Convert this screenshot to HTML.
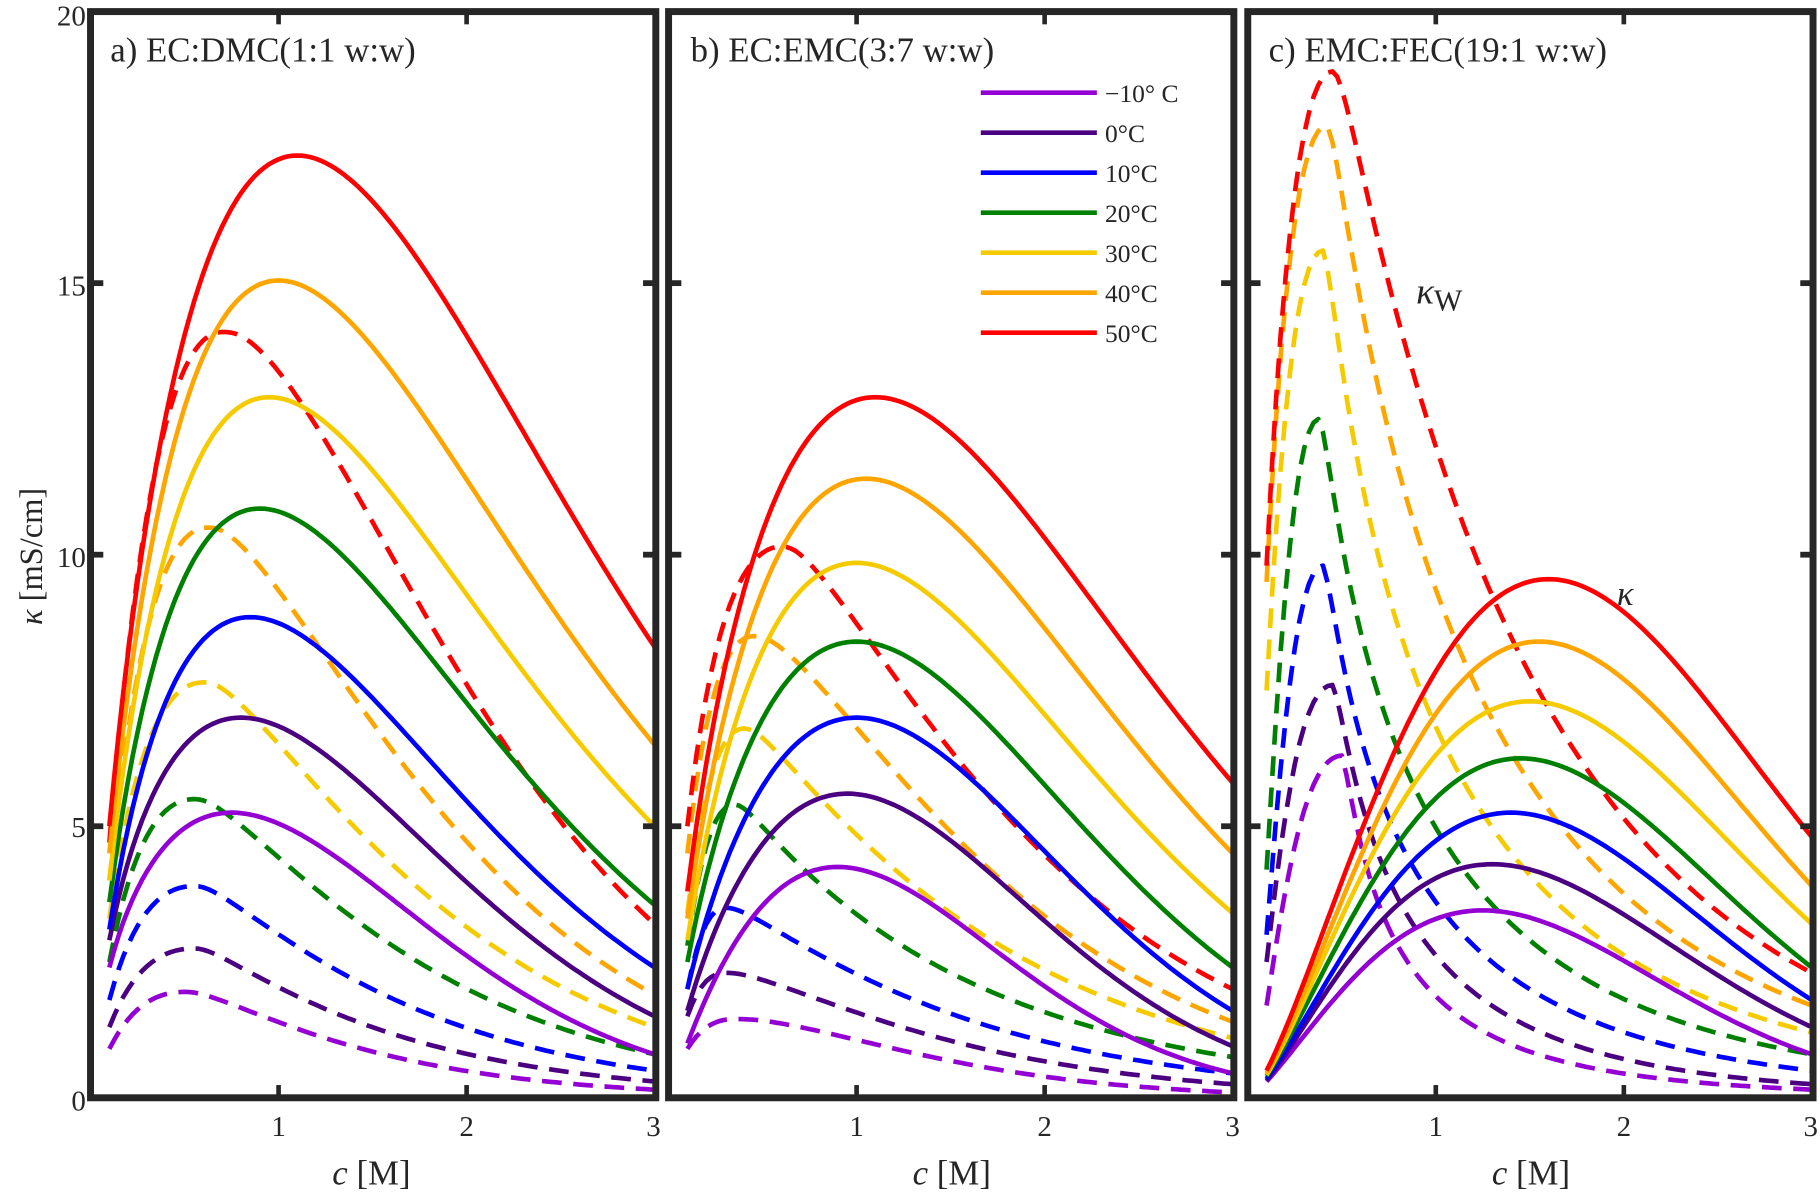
<!DOCTYPE html>
<html><head><meta charset="utf-8"><style>
html,body{margin:0;padding:0;background:#fff;}
svg{display:block;}
text{font-family:"Liberation Serif",serif;fill:#262626;}
</style></head><body>
<svg id="s" width="1820" height="1194" viewBox="0 0 1568 1030" preserveAspectRatio="none" xmlns="http://www.w3.org/2000/svg">
<defs>
<clipPath id="ca"><rect x="78" y="10" width="487" height="937"/></clipPath>
<clipPath id="cb"><rect x="576" y="10" width="488" height="937"/></clipPath>
<clipPath id="cc"><rect x="1075" y="10" width="488" height="937"/></clipPath>
</defs>
<g id="curves"></g>
<g id="frames"></g>
<text x="95" y="53" font-size="30">a) EC:DMC(1:1 w:w)</text>
<text x="595" y="53" font-size="30">b) EC:EMC(3:7 w:w)</text>
<text x="1093" y="53" font-size="30">c) EMC:FEC(19:1 w:w)</text>
<g font-size="25" text-anchor="end">
<text x="74" y="22">20</text><text x="74" y="255">15</text><text x="74" y="489">10</text><text x="74" y="722">5</text><text x="74" y="958">0</text>
</g>
<g font-size="25" text-anchor="middle">
<text x="240" y="980">1</text><text x="402" y="980">2</text><text x="563" y="980">3</text>
<text x="738" y="980">1</text><text x="900" y="980">2</text><text x="1062" y="980">3</text>
<text x="1237" y="980">1</text><text x="1399" y="980">2</text><text x="1560" y="980">3</text>
</g>
<g font-size="30" text-anchor="middle">
<text x="320" y="1022"><tspan font-style="italic">c</tspan> [M]</text>
<text x="820" y="1022"><tspan font-style="italic">c</tspan> [M]</text>
<text x="1319" y="1022"><tspan font-style="italic">c</tspan> [M]</text>
</g>
<text transform="translate(36,480) rotate(-90)" font-size="28" text-anchor="middle"><tspan font-style="italic">κ</tspan> [mS/cm]</text>
<text x="1220" y="262" font-size="32" font-style="italic">κ<tspan font-style="normal" font-size="26" dy="6">W</tspan></text>
<text x="1393" y="522" font-size="30" font-style="italic">κ</text>
<g id="legend" font-size="22"></g>
</svg>
<script>
var cols=["#9400D3","#4B0082","#0000FF","#008000","#F5CB00","#FFA500","#FF0000"];
var Y=function(v){return 947-v*46.85;};
var X0=[78,576,1075];
// [cm, peak, v0.1, v3, v1.5 (dashed)]
var data={
a:{s:[[0.75,5.25,2.4,0.8],[0.8,7.0,2.9,1.5],[0.85,8.85,3.1,2.4],[0.9,10.85,3.6,3.55],[0.95,12.9,4.0,5.0],[1.0,15.05,4.5,6.5],[1.1,17.35,5.0,8.3]],
   d:[[0.5,1.95,0.9,0.15,0.85],[0.55,2.75,1.3,0.3,1.3],[0.55,3.9,1.8,0.5,2.0],[0.55,5.5,2.5,0.8,3.05],[0.6,7.65,3.3,1.3,4.65],[0.62,10.5,4.0,1.9,6.9],[0.7,14.1,4.7,3.2,10.6]]},
b:{s:[[0.9,4.25,1.0,0.45],[0.95,5.6,1.6,0.95],[1.0,7.0,2.0,1.6],[1.0,8.4,2.5,2.4],[1.0,9.85,2.9,3.4],[1.05,11.4,3.3,4.5],[1.1,12.9,3.8,5.8]],
   d:[[0.35,1.45,0.9,0.1,0.68],[0.3,2.3,1.5,0.25,1.05],[0.3,3.5,2.0,0.45,1.55],[0.35,5.4,2.8,0.75,2.3],[0.4,6.8,3.4,1.1,3.4],[0.45,8.5,4.5,1.4,4.9],[0.6,10.15,5.0,2.0,6.4]]},
c:{s:[[1.25,3.45,0.3,0.8],[1.3,4.3,0.32,1.3],[1.4,5.25,0.35,1.8],[1.45,6.25,0.4,2.4],[1.5,7.3,0.42,3.2],[1.55,8.4,0.45,3.9],[1.6,9.55,0.5,4.8]],
   d:[[0.5,6.3,1.7,0.15,0.85],[0.45,7.6,2.5,0.25,1.3],[0.4,9.8,3.0,0.5,2.0],[0.38,12.5,4.2,0.8,2.9],[0.4,15.6,7.5,1.2,4.1],[0.42,17.9,9.5,1.7,5.8],[0.45,18.9,9.8,2.3,7.8]]}};
function fit(p){var cm=p[0],A=p[1];
 function g(c){return [Math.log(c/cm)-(c-cm)/cm,(c-cm)*(c-cm)];}
 var g1=g(0.1),g3=g(3),r1=Math.log(p[2]/A),r3=Math.log(p[3]/A);
 var det=g1[0]*g3[1]-g1[1]*g3[0];
 var a=(r1*g3[1]-g1[1]*r3)/det,b=(g1[0]*r3-r1*g3[0])/det;
 var left=function(c){var t=g(c);return A*Math.exp(a*t[0]+b*t[1]);};
 if(p.length<5) return left;
 var e=0.08;function dd(c){var d=c-cm;return Math.sqrt(d*d+e*e)-e;}
 var L3=Math.log(A/p[3]),L15=Math.log(A/p[4]);
 var pw=Math.log(L3/L15)/Math.log(dd(3)/dd(1.5)),k=L3/Math.pow(dd(3),pw);
 return function(c){if(c<=cm)return left(c);return A*Math.exp(-k*Math.pow(dd(c),pw));};}
var out="";
["a","b","c"].forEach(function(k,i){
 var clip="url(#c"+k+")";
 ["d","s"].forEach(function(t){
  data[k][t].forEach(function(p,j){var f=fit(p),pts=[];
   for(var c=0.1;c<=3.001;c+=0.025){pts.push((X0[i]+c*162).toFixed(1)+","+Y(f(c)).toFixed(1));}
   out+='<polyline clip-path="'+clip+'" fill="none" stroke="'+cols[j]+'" stroke-width="4" stroke-linejoin="round" '+(t=="d"?'stroke-dasharray="17 10"':'')+' points="'+pts.join(" ")+'"/>';});});});
document.getElementById("curves").innerHTML=out;
var fr="";
X0.forEach(function(x){var w=487;
 fr+='<rect x="'+x+'" y="10" width="'+w+'" height="937" fill="none" stroke="#262626" stroke-width="6"/>';
 [5,10,15].forEach(function(v){fr+='<line x1="'+x+'" x2="'+(x+11)+'" y1="'+Y(v)+'" y2="'+Y(v)+'" stroke="#262626" stroke-width="5"/><line x1="'+(x+w-11)+'" x2="'+(x+w)+'" y1="'+Y(v)+'" y2="'+Y(v)+'" stroke="#262626" stroke-width="5"/>';});
 [1,2].forEach(function(c){var xx=x+c*162;fr+='<line x1="'+xx+'" x2="'+xx+'" y1="10" y2="21" stroke="#262626" stroke-width="4"/><line x1="'+xx+'" x2="'+xx+'" y1="936" y2="947" stroke="#262626" stroke-width="4"/>';});
});
document.getElementById("frames").innerHTML=fr;
var labs=["−10° C","0°C","10°C","20°C","30°C","40°C","50°C"],lg="";
labs.forEach(function(l,j){var y=80+j*34.5;
 lg+='<line x1="845" x2="945" y1="'+y+'" y2="'+y+'" stroke="'+cols[j]+'" stroke-width="4"/><text x="952" y="'+(y+8)+'">'+l+'</text>';});
document.getElementById("legend").innerHTML=lg;
</script>
</body></html>
